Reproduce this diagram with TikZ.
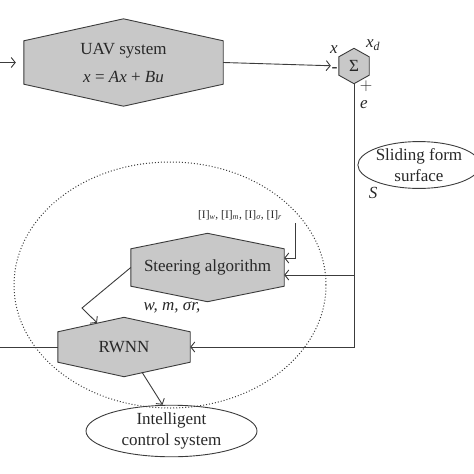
\documentclass[tikz,border=0pt]{standalone}
\usepackage{fontspec}
\setmainfont{Liberation Serif}
\usetikzlibrary{arrows.meta, positioning, shapes.geometric, backgrounds}
\definecolor{edge}{RGB}{60,60,60}
\definecolor{boxfill}{RGB}{200,200,200}
\definecolor{textc}{RGB}{40,40,40}

% grey hexagon behind a rectangle node, #2 = height of the points
\newcommand{\hexback}[2]{%
  \begin{scope}[on background layer]
    \filldraw[hexfill] (#1.north west) -- ([yshift=#2]#1.north) -- (#1.north east)
      -- (#1.south east) -- ([yshift=-#2]#1.south) -- (#1.south west) -- cycle;
  \end{scope}}

\begin{document}
\begin{tikzpicture}[x=1pt, y=-1pt,
    hexbox/.style={rectangle, inner sep=0pt, align=center, text=textc,
                   font=\fontsize{17}{20}\selectfont},
    hexfill/.style={draw=edge, fill=boxfill, line width=0.9pt},
    oval/.style={ellipse, draw=edge, line width=0.9pt, inner sep=0pt,
                 align=center, text=textc, font=\fontsize{17}{21}\selectfont},
    arr/.style={-{Straight Barb[length=4pt,width=10pt]}, draw=edge, line width=0.9pt},
    plain/.style={draw=edge, line width=0.9pt},
    lbl/.style={text=textc, inner sep=0pt, font=\fontsize{17}{18}\selectfont\itshape},
    sign/.style={text=textc, inner sep=0pt, font=\fontsize{16}{18}\selectfont},
  ]
  \useasboundingbox (0,0) rectangle (474,474);

  % blocks
  \node[hexbox, minimum width=199pt, minimum height=43pt] (uav) at (123.5,62.5)
    {UAV system\\[8pt]\textit{x} = \textit{Ax} + \textit{Bu}};
  \node[hexbox, minimum width=30pt, minimum height=18pt,
        font=\fontsize{17}{18}\selectfont] (sum) at (354,66) {Σ};
  \node[hexbox, minimum width=153pt, minimum height=37pt] (steer) at (207.5,267.5)
    {Steering algorithm};
  \node[hexbox, minimum width=132pt, minimum height=30pt] (rwnn) at (124,347) {RWNN};
  \hexback{uav}{22pt}
  \hexback{sum}{8.5pt}
  \hexback{steer}{15.5pt}
  \hexback{rwnn}{14.5pt}

  \node[oval, minimum width=108pt, minimum height=44pt] (slide) at (419,165)
    {Sliding form\\surface};
  \node[oval, minimum width=171pt, minimum height=46pt] (intel) at (171.5,431)
    {Intelligent\\control system};
  \node[ellipse, draw=edge, dotted, line width=1pt, minimum width=312pt,
        minimum height=246pt] (group) at (170,285) {};

  % labels
  \node[lbl] (lx) at (334,50) {x};
  \node[lbl] (lxd) at (373,45) {x\textsubscript{d}};
  \node[sign, font=\fontsize{18}{18}\selectfont] (lminus) at (334.5,70.5) {-};
  \node[sign] (lplus) at (366,86) {$+$};
  \node[lbl] (le) at (364,105) {e};
  \node[lbl] (ls) at (373,193) {S};
  \node[lbl] (lw) at (172,307) {w, m, σr,};
  \node[text=textc, inner sep=0pt, font=\fontsize{11.5}{13}\selectfont] (lI) at (240,215)
    {[I]\textsubscript{\textit{w}}, [I]\textsubscript{\textit{m}},
     [I]\textsubscript{\textit{σ}}, [I]\textsubscript{\textit{r}}};

  % connectors
  \coordinate (in) at (0,62.5);
  \coordinate (out) at (0,347);
  \coordinate (itop) at (295,223);
  \coordinate (bend) at (82,308);
  \coordinate (tap) at (sum.south |- 0,275);
  \draw[arr, shorten >=8pt] (in) -- (uav.west);
  \draw[arr, shorten >=8pt] (uav.east) -- (sum.west);
  \draw[arr] ([yshift=-8.5pt]sum.south) |- (rwnn.east);
  \draw[arr] (tap) -- ([yshift=-7.5pt]steer.east);
  \draw[arr] (itop) |- ([yshift=9.5pt]steer.east);
  \draw[arr] (steer.west) -- (bend) -- ([xshift=-27pt,yshift=9pt]rwnn.north);
  \draw[plain] (rwnn.west) -- (out);
  \draw[arr] ([xshift=18pt,yshift=-10pt]rwnn.south) -- ([xshift=-9pt]intel.north);
\end{tikzpicture}
\end{document}
